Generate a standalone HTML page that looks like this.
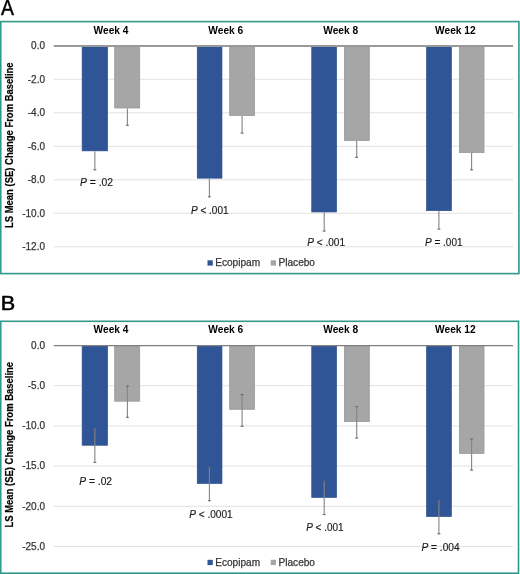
<!DOCTYPE html>
<html><head><meta charset="utf-8"><title>LS Mean Change From Baseline</title>
<style>html,body{margin:0;padding:0;background:#fff;width:520px;height:574px;overflow:hidden}</style>
</head><body>
<svg width="520" height="574" viewBox="0 0 520 574" style="display:block">
<rect width="520" height="574" fill="#fff"/>
<rect x="0.75" y="21.6" width="518.15" height="252.00" fill="none" stroke="#31988b" stroke-width="1.6"/>
<text transform="translate(1.0 14.8) scale(0.88 1)" font-family='"Liberation Sans", Arial, sans-serif' font-size="22" fill="#000" stroke="#000" stroke-width="0.45">A</text>
<text x="45" y="49.00" text-anchor="end" font-family='"Liberation Sans", Arial, sans-serif' font-size="10" fill="#363636" stroke="#363636" stroke-width="0.25">0.0</text>
<line x1="53.7" y1="79.30" x2="513" y2="79.30" stroke="#e2e2e2" stroke-width="1"/>
<text x="45" y="82.50" text-anchor="end" font-family='"Liberation Sans", Arial, sans-serif' font-size="10" fill="#363636" stroke="#363636" stroke-width="0.25">-2.0</text>
<line x1="53.7" y1="112.80" x2="513" y2="112.80" stroke="#e2e2e2" stroke-width="1"/>
<text x="45" y="116.00" text-anchor="end" font-family='"Liberation Sans", Arial, sans-serif' font-size="10" fill="#363636" stroke="#363636" stroke-width="0.25">-4.0</text>
<line x1="53.7" y1="146.30" x2="513" y2="146.30" stroke="#e2e2e2" stroke-width="1"/>
<text x="45" y="149.50" text-anchor="end" font-family='"Liberation Sans", Arial, sans-serif' font-size="10" fill="#363636" stroke="#363636" stroke-width="0.25">-6.0</text>
<line x1="53.7" y1="179.80" x2="513" y2="179.80" stroke="#e2e2e2" stroke-width="1"/>
<text x="45" y="183.00" text-anchor="end" font-family='"Liberation Sans", Arial, sans-serif' font-size="10" fill="#363636" stroke="#363636" stroke-width="0.25">-8.0</text>
<line x1="53.7" y1="213.30" x2="513" y2="213.30" stroke="#e2e2e2" stroke-width="1"/>
<text x="45" y="216.50" text-anchor="end" font-family='"Liberation Sans", Arial, sans-serif' font-size="10" fill="#363636" stroke="#363636" stroke-width="0.25">-10.0</text>
<line x1="53.7" y1="246.80" x2="513" y2="246.80" stroke="#e2e2e2" stroke-width="1"/>
<text x="45" y="250.00" text-anchor="end" font-family='"Liberation Sans", Arial, sans-serif' font-size="10" fill="#363636" stroke="#363636" stroke-width="0.25">-12.0</text>
<text transform="translate(12.7 145.20) rotate(-90)" text-anchor="middle" font-family='"Liberation Sans", Arial, sans-serif' font-weight="bold" font-size="10.5" fill="#000" stroke="#000" stroke-width="0.2" textLength="165.6" lengthAdjust="spacingAndGlyphs">LS Mean (SE) Change From Baseline</text>
<text x="111.0" y="33.90" text-anchor="middle" font-family='"Liberation Sans", Arial, sans-serif' font-weight="bold" font-size="10.2" fill="#000">Week 4</text>
<text x="225.8" y="33.90" text-anchor="middle" font-family='"Liberation Sans", Arial, sans-serif' font-weight="bold" font-size="10.2" fill="#000">Week 6</text>
<text x="340.7" y="33.90" text-anchor="middle" font-family='"Liberation Sans", Arial, sans-serif' font-weight="bold" font-size="10.2" fill="#000">Week 8</text>
<text x="455.4" y="33.90" text-anchor="middle" font-family='"Liberation Sans", Arial, sans-serif' font-weight="bold" font-size="10.2" fill="#000">Week 12</text>
<rect x="82.14999999999999" y="45.95" width="25.40" height="104.90" fill="#2f5597" stroke="#2a4f8f" stroke-width="0.7"/>
<rect x="114.7" y="45.95" width="25.00" height="62.05" fill="#a6a6a6" stroke="#999999" stroke-width="0.8"/>
<rect x="197.25" y="45.95" width="24.70" height="132.20" fill="#2f5597" stroke="#2a4f8f" stroke-width="0.7"/>
<rect x="229.70000000000002" y="45.95" width="24.80" height="69.55" fill="#a6a6a6" stroke="#999999" stroke-width="0.8"/>
<rect x="311.75" y="45.95" width="24.80" height="166.00" fill="#2f5597" stroke="#2a4f8f" stroke-width="0.7"/>
<rect x="344.4" y="45.95" width="24.90" height="94.55" fill="#a6a6a6" stroke="#999999" stroke-width="0.8"/>
<rect x="426.55" y="45.95" width="24.80" height="164.70" fill="#2f5597" stroke="#2a4f8f" stroke-width="0.7"/>
<rect x="459.4" y="45.95" width="24.60" height="106.65" fill="#a6a6a6" stroke="#999999" stroke-width="0.8"/>
<line x1="53.7" y1="45.95" x2="513" y2="45.95" stroke="#999999" stroke-width="1.9"/>
<line x1="94.85" y1="151.2" x2="94.85" y2="170.3" stroke="#858585" stroke-width="1.1"/>
<line x1="93.35" y1="169.80" x2="96.35" y2="169.80" stroke="#666" stroke-width="1"/>
<line x1="127.4" y1="108.4" x2="127.4" y2="125.7" stroke="#858585" stroke-width="1.1"/>
<line x1="125.9" y1="125.20" x2="128.9" y2="125.20" stroke="#666" stroke-width="1"/>
<line x1="209.4" y1="178.5" x2="209.4" y2="197.3" stroke="#858585" stroke-width="1.1"/>
<line x1="207.9" y1="196.80" x2="210.9" y2="196.80" stroke="#666" stroke-width="1"/>
<line x1="242.1" y1="115.9" x2="242.1" y2="133.5" stroke="#858585" stroke-width="1.1"/>
<line x1="240.6" y1="133.00" x2="243.6" y2="133.00" stroke="#666" stroke-width="1"/>
<line x1="324.2" y1="212.3" x2="324.2" y2="231.5" stroke="#858585" stroke-width="1.1"/>
<line x1="322.7" y1="231.00" x2="325.7" y2="231.00" stroke="#666" stroke-width="1"/>
<line x1="356.7" y1="140.9" x2="356.7" y2="157.8" stroke="#858585" stroke-width="1.1"/>
<line x1="355.2" y1="157.30" x2="358.2" y2="157.30" stroke="#666" stroke-width="1"/>
<line x1="438.9" y1="211.0" x2="438.9" y2="229.6" stroke="#858585" stroke-width="1.1"/>
<line x1="437.4" y1="229.10" x2="440.4" y2="229.10" stroke="#666" stroke-width="1"/>
<line x1="471.6" y1="153.0" x2="471.6" y2="170.3" stroke="#858585" stroke-width="1.1"/>
<line x1="470.1" y1="169.80" x2="473.1" y2="169.80" stroke="#666" stroke-width="1"/>
<text x="80.0" y="185.8" font-family='"Liberation Sans", Arial, sans-serif' font-size="10.2" fill="#1a1a1a" stroke="#1a1a1a" stroke-width="0.15" textLength="33.10" lengthAdjust="spacingAndGlyphs"><tspan font-style="italic">P</tspan> = .02</text>
<text x="190.9" y="213.6" font-family='"Liberation Sans", Arial, sans-serif' font-size="10.2" fill="#1a1a1a" stroke="#1a1a1a" stroke-width="0.15" textLength="37.70" lengthAdjust="spacingAndGlyphs"><tspan font-style="italic">P</tspan> < .001</text>
<text x="307.3" y="245.8" font-family='"Liberation Sans", Arial, sans-serif' font-size="10.2" fill="#1a1a1a" stroke="#1a1a1a" stroke-width="0.15" textLength="37.70" lengthAdjust="spacingAndGlyphs"><tspan font-style="italic">P</tspan> < .001</text>
<text x="425.0" y="245.6" font-family='"Liberation Sans", Arial, sans-serif' font-size="10.2" fill="#1a1a1a" stroke="#1a1a1a" stroke-width="0.15" textLength="37.60" lengthAdjust="spacingAndGlyphs"><tspan font-style="italic">P</tspan> = .001</text>
<rect x="207.5" y="260.30" width="5.3" height="5.3" fill="#2f5597"/>
<text x="215.2" y="265.70" font-family='"Liberation Sans", Arial, sans-serif' font-size="10.1" fill="#363636" stroke="#363636" stroke-width="0.25">Ecopipam</text>
<rect x="270.7" y="260.30" width="5.3" height="5.3" fill="#a6a6a6"/>
<text x="278.5" y="265.70" font-family='"Liberation Sans", Arial, sans-serif' font-size="10.1" fill="#363636" stroke="#363636" stroke-width="0.25">Placebo</text>
<rect x="0.75" y="321.3" width="517.75" height="251.90" fill="none" stroke="#31988b" stroke-width="1.6"/>
<text transform="translate(0.65 309.9) scale(1.05 1)" font-family='"Liberation Sans", Arial, sans-serif' font-size="20.6" fill="#000" stroke="#000" stroke-width="0.55">B</text>
<text x="45" y="348.70" text-anchor="end" font-family='"Liberation Sans", Arial, sans-serif' font-size="10" fill="#363636" stroke="#363636" stroke-width="0.25">0.0</text>
<line x1="53.7" y1="385.70" x2="513" y2="385.70" stroke="#e2e2e2" stroke-width="1"/>
<text x="45" y="388.90" text-anchor="end" font-family='"Liberation Sans", Arial, sans-serif' font-size="10" fill="#363636" stroke="#363636" stroke-width="0.25">-5.0</text>
<line x1="53.7" y1="425.90" x2="513" y2="425.90" stroke="#e2e2e2" stroke-width="1"/>
<text x="45" y="429.10" text-anchor="end" font-family='"Liberation Sans", Arial, sans-serif' font-size="10" fill="#363636" stroke="#363636" stroke-width="0.25">-10.0</text>
<line x1="53.7" y1="466.10" x2="513" y2="466.10" stroke="#e2e2e2" stroke-width="1"/>
<text x="45" y="469.30" text-anchor="end" font-family='"Liberation Sans", Arial, sans-serif' font-size="10" fill="#363636" stroke="#363636" stroke-width="0.25">-15.0</text>
<line x1="53.7" y1="506.30" x2="513" y2="506.30" stroke="#e2e2e2" stroke-width="1"/>
<text x="45" y="509.50" text-anchor="end" font-family='"Liberation Sans", Arial, sans-serif' font-size="10" fill="#363636" stroke="#363636" stroke-width="0.25">-20.0</text>
<line x1="53.7" y1="546.50" x2="513" y2="546.50" stroke="#e2e2e2" stroke-width="1"/>
<text x="45" y="549.70" text-anchor="end" font-family='"Liberation Sans", Arial, sans-serif' font-size="10" fill="#363636" stroke="#363636" stroke-width="0.25">-25.0</text>
<text transform="translate(12.7 444.70) rotate(-90)" text-anchor="middle" font-family='"Liberation Sans", Arial, sans-serif' font-weight="bold" font-size="10.5" fill="#000" stroke="#000" stroke-width="0.2" textLength="165.6" lengthAdjust="spacingAndGlyphs">LS Mean (SE) Change From Baseline</text>
<text x="111.0" y="333.40" text-anchor="middle" font-family='"Liberation Sans", Arial, sans-serif' font-weight="bold" font-size="10.2" fill="#000">Week 4</text>
<text x="225.8" y="333.40" text-anchor="middle" font-family='"Liberation Sans", Arial, sans-serif' font-weight="bold" font-size="10.2" fill="#000">Week 6</text>
<text x="340.7" y="333.40" text-anchor="middle" font-family='"Liberation Sans", Arial, sans-serif' font-weight="bold" font-size="10.2" fill="#000">Week 8</text>
<text x="455.4" y="333.40" text-anchor="middle" font-family='"Liberation Sans", Arial, sans-serif' font-weight="bold" font-size="10.2" fill="#000">Week 12</text>
<rect x="82.14999999999999" y="345.60" width="25.40" height="99.65" fill="#2f5597" stroke="#2a4f8f" stroke-width="0.7"/>
<rect x="114.7" y="345.60" width="25.00" height="55.60" fill="#a6a6a6" stroke="#999999" stroke-width="0.8"/>
<rect x="197.25" y="345.60" width="24.70" height="137.85" fill="#2f5597" stroke="#2a4f8f" stroke-width="0.7"/>
<rect x="229.70000000000002" y="345.60" width="24.80" height="63.70" fill="#a6a6a6" stroke="#999999" stroke-width="0.8"/>
<rect x="311.75" y="345.60" width="24.80" height="151.75" fill="#2f5597" stroke="#2a4f8f" stroke-width="0.7"/>
<rect x="344.4" y="345.60" width="24.90" height="76.00" fill="#a6a6a6" stroke="#999999" stroke-width="0.8"/>
<rect x="426.55" y="345.60" width="24.80" height="170.95" fill="#2f5597" stroke="#2a4f8f" stroke-width="0.7"/>
<rect x="459.4" y="345.60" width="24.60" height="107.80" fill="#a6a6a6" stroke="#999999" stroke-width="0.8"/>
<line x1="53.7" y1="345.60" x2="513" y2="345.60" stroke="#7f7f7f" stroke-width="1.2"/>
<line x1="94.85" y1="428.5" x2="94.85" y2="462.8" stroke="#858585" stroke-width="1.1"/>
<line x1="93.35" y1="462.30" x2="96.35" y2="462.30" stroke="#666" stroke-width="1"/>
<line x1="93.35" y1="429.00" x2="96.35" y2="429.00" stroke="#666" stroke-width="1"/>
<line x1="127.4" y1="385.5" x2="127.4" y2="417.8" stroke="#858585" stroke-width="1.1"/>
<line x1="125.9" y1="417.30" x2="128.9" y2="417.30" stroke="#666" stroke-width="1"/>
<line x1="125.9" y1="386.00" x2="128.9" y2="386.00" stroke="#666" stroke-width="1"/>
<line x1="209.4" y1="466.9" x2="209.4" y2="501.2" stroke="#858585" stroke-width="1.1"/>
<line x1="207.9" y1="500.70" x2="210.9" y2="500.70" stroke="#666" stroke-width="1"/>
<line x1="207.9" y1="467.40" x2="210.9" y2="467.40" stroke="#666" stroke-width="1"/>
<line x1="242.1" y1="394.2" x2="242.1" y2="426.7" stroke="#858585" stroke-width="1.1"/>
<line x1="240.6" y1="426.20" x2="243.6" y2="426.20" stroke="#666" stroke-width="1"/>
<line x1="240.6" y1="394.70" x2="243.6" y2="394.70" stroke="#666" stroke-width="1"/>
<line x1="324.2" y1="480.8" x2="324.2" y2="515.1" stroke="#858585" stroke-width="1.1"/>
<line x1="322.7" y1="514.60" x2="325.7" y2="514.60" stroke="#666" stroke-width="1"/>
<line x1="322.7" y1="481.30" x2="325.7" y2="481.30" stroke="#666" stroke-width="1"/>
<line x1="356.7" y1="406.2" x2="356.7" y2="438.5" stroke="#858585" stroke-width="1.1"/>
<line x1="355.2" y1="438.00" x2="358.2" y2="438.00" stroke="#666" stroke-width="1"/>
<line x1="355.2" y1="406.70" x2="358.2" y2="406.70" stroke="#666" stroke-width="1"/>
<line x1="438.9" y1="500.5" x2="438.9" y2="534.3" stroke="#858585" stroke-width="1.1"/>
<line x1="437.4" y1="533.80" x2="440.4" y2="533.80" stroke="#666" stroke-width="1"/>
<line x1="437.4" y1="501.00" x2="440.4" y2="501.00" stroke="#666" stroke-width="1"/>
<line x1="471.6" y1="438.5" x2="471.6" y2="470.5" stroke="#858585" stroke-width="1.1"/>
<line x1="470.1" y1="470.00" x2="473.1" y2="470.00" stroke="#666" stroke-width="1"/>
<line x1="470.1" y1="439.00" x2="473.1" y2="439.00" stroke="#666" stroke-width="1"/>
<text x="79.2" y="484.6" font-family='"Liberation Sans", Arial, sans-serif' font-size="10.2" fill="#1a1a1a" stroke="#1a1a1a" stroke-width="0.15" textLength="32.90" lengthAdjust="spacingAndGlyphs"><tspan font-style="italic">P</tspan> = .02</text>
<text x="189.2" y="518.1" font-family='"Liberation Sans", Arial, sans-serif' font-size="10.2" fill="#1a1a1a" stroke="#1a1a1a" stroke-width="0.15" textLength="43.50" lengthAdjust="spacingAndGlyphs"><tspan font-style="italic">P</tspan> < .0001</text>
<text x="306.2" y="530.8" font-family='"Liberation Sans", Arial, sans-serif' font-size="10.2" fill="#1a1a1a" stroke="#1a1a1a" stroke-width="0.15" textLength="37.30" lengthAdjust="spacingAndGlyphs"><tspan font-style="italic">P</tspan> < .001</text>
<text x="421.5" y="550.8" font-family='"Liberation Sans", Arial, sans-serif' font-size="10.2" fill="#1a1a1a" stroke="#1a1a1a" stroke-width="0.15" textLength="38.10" lengthAdjust="spacingAndGlyphs"><tspan font-style="italic">P</tspan> = .004</text>
<rect x="207.5" y="559.80" width="5.3" height="5.3" fill="#2f5597"/>
<text x="215.2" y="565.70" font-family='"Liberation Sans", Arial, sans-serif' font-size="10.1" fill="#363636" stroke="#363636" stroke-width="0.25">Ecopipam</text>
<rect x="270.7" y="559.80" width="5.3" height="5.3" fill="#a6a6a6"/>
<text x="278.5" y="565.70" font-family='"Liberation Sans", Arial, sans-serif' font-size="10.1" fill="#363636" stroke="#363636" stroke-width="0.25">Placebo</text>
</svg>
</body></html>
